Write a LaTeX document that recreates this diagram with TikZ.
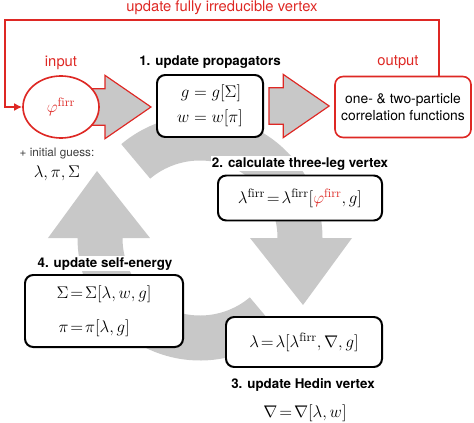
\documentclass[tikz,border=0pt]{standalone}
\usepackage{amsmath}
\usepackage{fontspec}
\setsansfont{TeX Gyre Heros}
\usetikzlibrary{arrows.meta,positioning,calc,shapes.geometric,backgrounds}
\definecolor{loopRed}{RGB}{222,40,36}
\definecolor{loopGray}{RGB}{200,200,200}
\definecolor{noteGray}{RGB}{60,60,60}

% fat grey arrow between two anchors (same row)
\newcommand{\fatarrow}[2]{%
  \draw[blockarrow] let \p1=(#1), \p2=(#2) in
    (\x1,\y1+0.55cm) -- (\x2-1.38cm,\y1+0.55cm) -- (\x2-1.38cm,\y1+0.95cm)
    -- (\x2,\y1) -- (\x2-1.38cm,\y1-0.95cm) -- (\x2-1.38cm,\y1-0.55cm)
    -- (\x1,\y1-0.55cm) -- cycle;}

\begin{document}
\begin{tikzpicture}[
    x=0.03cm, y=-0.03cm,
    mathbox/.style={draw=black, line width=1.7pt, rounded corners=7pt, fill=white, align=center, font=\fontsize{15}{18}\selectfont, inner sep=2pt},
    redbox/.style={draw=loopRed, line width=1.4pt, rounded corners=7pt, fill=white, align=center, font=\sffamily\fontsize{11.8}{14.5}\selectfont, inner sep=2pt},
    inpell/.style={ellipse, draw=loopRed, line width=1.4pt, fill=white, text=loopRed, font=\fontsize{15}{18}\selectfont, inner sep=0pt},
    steplabel/.style={font=\sffamily\bfseries\fontsize{11.4}{13}\selectfont, fill=white, inner sep=1pt},
    redlabel/.style={font=\sffamily\fontsize{12.6}{14}\selectfont, text=loopRed, inner sep=1pt},
    notetext/.style={font=\sffamily\fontsize{10}{12}\selectfont, text=noteGray, inner sep=1pt},
    mathtext/.style={font=\fontsize{15}{18}\selectfont, inner sep=1pt},
    blockarrow/.style={fill=loopGray, draw=loopRed, line width=1pt, line join=miter},
    looparrow/.style={fill=loopGray},
    feedback/.style={draw=loopRed, line width=1.5pt, -{Latex[length=2.4mm,width=2.4mm]}}
  ]
    \useasboundingbox (0,0) rectangle (474,423);

    % main nodes
    \node[inpell, minimum width=2.28cm, minimum height=1.86cm] (inp) at (61,107) {$\varphi^{\mathrm{firr}}$};
    \node[mathbox, minimum width=3.18cm, minimum height=1.86cm] (prop) at (210,106)
      {$\begin{aligned} g &= g[\Sigma]\\ w &= w[\pi]\end{aligned}$};
    \node[redbox, minimum width=4.08cm, minimum height=1.83cm] (outp) at (403,107)
      {one- \& two-particle\\correlation functions};
    \node[mathbox, minimum width=4.92cm, minimum height=1.35cm] (three) at (300,198)
      {$\lambda^{\mathrm{firr}}\!=\!\lambda^{\mathrm{firr}}[\textcolor{loopRed}{\varphi^{\mathrm{firr}}},g]$};
    \node[mathbox, minimum width=4.68cm, minimum height=1.5cm] (hedin) at (304,342)
      {$\lambda\!=\!\lambda[\lambda^{\mathrm{firr}},\nabla,g]$};
    \node[mathbox, minimum width=4.74cm, minimum height=2.16cm] (self) at (104,311)
      {$\begin{aligned}\Sigma&\!=\!\Sigma[\lambda,w,g]\\[8pt] \pi&\!=\!\pi[\lambda,g]\end{aligned}$};

    % labels
    \node[steplabel, anchor=base] (l1) at (210,66) {1. update propagators};
    \node[steplabel, anchor=base] (l2) at (300,167) {2. calculate three-leg vertex};
    \node[steplabel, anchor=base] (l3) at (303,388) {3. update Hedin vertex};
    \node[steplabel, anchor=base] (l4) at (105,267) {4. update self-energy};
    \node[redlabel, anchor=base] (lin) at (61,67) {input};
    \node[redlabel, anchor=base] (lout) at (398,66) {output};
    \node[redlabel, anchor=base] (lfb) at (222,12) {update fully irreducible vertex};
    \node[notetext, anchor=base] (guess) at (57,156) {+ initial guess:};
    \node[mathtext, anchor=base] (guessv) at (57,177) {$\lambda,\pi,\Sigma$};
    \node[mathtext, anchor=base] (nabla) at (305,417) {$\nabla\!=\!\nabla[\lambda,w]$};

    % grey arrows behind everything
    \coordinate (loopc) at (200,238);
    \begin{pgfonlayer}{background}
      \begin{scope}[shift={(loopc)}, x=1cm, y=1cm]
        \fill[looparrow] (130:3.675) arc[start angle=130, end angle=0, radius=3.675]
          -- (4.56,0) -- (3.09,-2.01) -- (1.5,0) -- (2.325,0)
          arc[start angle=0, end angle=130, radius=2.325] -- cycle;
        \fill[looparrow] (-50:3.675) arc[start angle=-50, end angle=-180, radius=3.675]
          -- (-4.56,0) -- (-3.09,2.01) -- (-1.5,0) -- (-2.325,0)
          arc[start angle=180, end angle=310, radius=2.325] -- cycle;
      \end{scope}
      \fatarrow{[xshift=-0.57cm]inp.east}{[xshift=-0.15cm]prop.west}
      \fatarrow{[xshift=0.15cm]prop.east}{[xshift=-0.15cm]outp.west}
    \end{pgfonlayer}

    % feedback loop
    \coordinate (fbc) at (5,20);
    \draw[feedback] ([xshift=1.08cm]outp.north) |- (fbc) |- (inp.west);
  \end{tikzpicture}
\end{document}
